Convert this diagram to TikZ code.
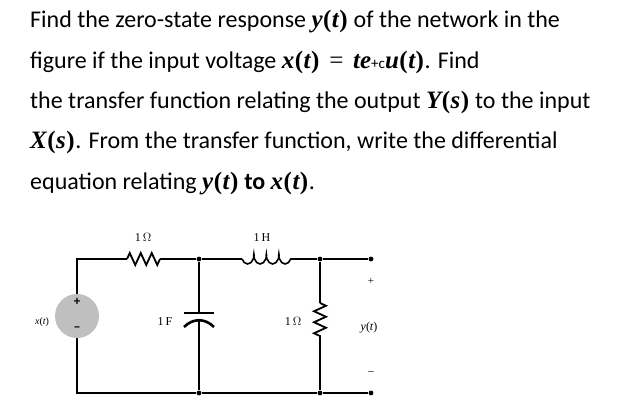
\documentclass[tikz,border=0pt]{standalone}
\usepackage{fontspec}
\setmainfont{Carlito}
\newfontfamily\mth{Liberation Serif}
\newcommand{\mv}[1]{{\mth\fontsize{25}{26}\selectfont\bfseries\itshape #1}}
\newcommand{\mr}[1]{{\mth\fontsize{25}{26}\selectfont\bfseries\kern0.5pt #1\kern0.5pt}}
\usetikzlibrary{decorations.pathmorphing}
\begin{document}
\begin{tikzpicture}[x=1pt,y=-1pt,
  txt/.style={anchor=base west,inner sep=0pt,font=\fontsize{24}{26}\selectfont},
  lbl/.style={inner sep=0pt,font=\mth\fontsize{12}{14}\selectfont},
  wire/.style={line width=1.5pt},
  dot/.style={circle,fill,inner sep=1.7pt},
  resH/.style={line width=1.8pt,decorate,decoration={zigzag,segment length=11pt,amplitude=6pt}},
  coilH/.style={line width=1.6pt,decorate,decoration={coil,aspect=0.5,segment length=12.5pt,amplitude=5pt,mirror}}]
\useasboundingbox (0,0) rectangle (635,407);
\fill[white] (0,0) rectangle (635,407);
\node[txt] (l1) at (30,27) {Find the zero-state response \mv{y}\mr{(}\mv{t}\mr{)} of the network in the};
\node[txt] (l2) at (30,68) {figure if the input voltage \mv{x}\mr{(}\mv{t}\mr{)} {\mth\fontsize{25}{26}\selectfont\,=\,} \mv{te}{\fontsize{15}{16}\selectfont+c}\mv{u}\mr{(}\mv{t}\mr{)}. Find};
\node[txt] (l3) at (30,108) {the transfer function relating the output \mv{Y}\mr{(}\mv{s}\mr{)} to the input};
\node[txt] (l4) at (30,148) {\mv{X}\mr{(}\mv{s}\mr{)}. From the transfer function, write the differential};
\node[txt] (l5) at (30,189) {equation relating \mv{y}\mr{(}\mv{t}\mr{)} \textbf{to} \mv{x}\mr{(}\mv{t}\mr{)}.};
% circuit coordinates
\coordinate (tl) at (77,259);
\coordinate (bl) at (77,393);
\coordinate (r1a) at (127,259);
\coordinate (r1b) at (160,259);
\node[dot] (n1) at (199,259) {};
\node[dot] (b1) at (199,393) {};
\coordinate (la) at (242,259);
\coordinate (lb) at (295,259);
\node[dot] (n2) at (320,259) {};
\node[dot] (b2) at (320,393) {};
\node[dot] (ot) at (371,259) {};
\node[dot] (ob) at (371,393) {};
\node[circle,fill=black!25,minimum size=44pt,inner sep=0pt] (src) at (77,316) {};
\node[font=\bfseries\fontsize{13}{14}\selectfont,inner sep=0pt] (sp) at (77,302) {+};
\node[font=\bfseries\fontsize{13}{14}\selectfont,inner sep=0pt] (sm) at (77,329) {\textminus};
\draw[wire] (src.north) -- (tl) -- (r1a);
\draw[resH] (r1a) -- (r1b);
\draw[wire] (r1b) -- (n1) -- (la);
\draw[coilH] (la) -- (lb);
\draw[wire] (lb) -- (n2) -- (ot);
\draw[wire] (src.south) -- (bl) -- (b1) -- (b2) -- (ob);
\draw[line width=2pt] (241,393) -- (256,393);
% capacitor
\coordinate (c1) at (199,313);
\coordinate (c2) at (199,320);
\draw[wire] (n1) -- (c1);
\draw[line width=2.6pt] (184,313) -- (214,313);
\draw[line width=2.6pt] (184,327) .. controls (193,318) and (205,318) .. (214,327);
\draw[wire] (c2) -- (b1);
% vertical resistor
\coordinate (r2a) at (320,303);
\coordinate (r2b) at (320,337);
\draw[wire] (n2) -- (r2a);
\draw[resH] (r2a) -- (r2b);
\draw[wire] (r2b) -- (b2);
% labels
\node[lbl] (t1) at (143,237) {1\,$\Omega$};
\node[lbl] (t2) at (262,238) {1\,H};
\node[lbl] (t3) at (165,322) {1\,F};
\node[lbl] (t4) at (293,321) {1\,$\Omega$};
\node[lbl,font=\mth\fontsize{11}{12}\selectfont] (t5) at (371,281) {+};
\node[lbl] (t6) at (369,328) {\itshape y\upshape(\itshape t\upshape)};
\node[lbl,font=\mth\fontsize{11}{12}\selectfont] (t7) at (371,373) {\textendash};
\node[lbl,font=\mth\fontsize{10}{12}\selectfont] (t8) at (42,322) {\itshape x\upshape(\itshape t\upshape)};
\end{tikzpicture}
\end{document}
